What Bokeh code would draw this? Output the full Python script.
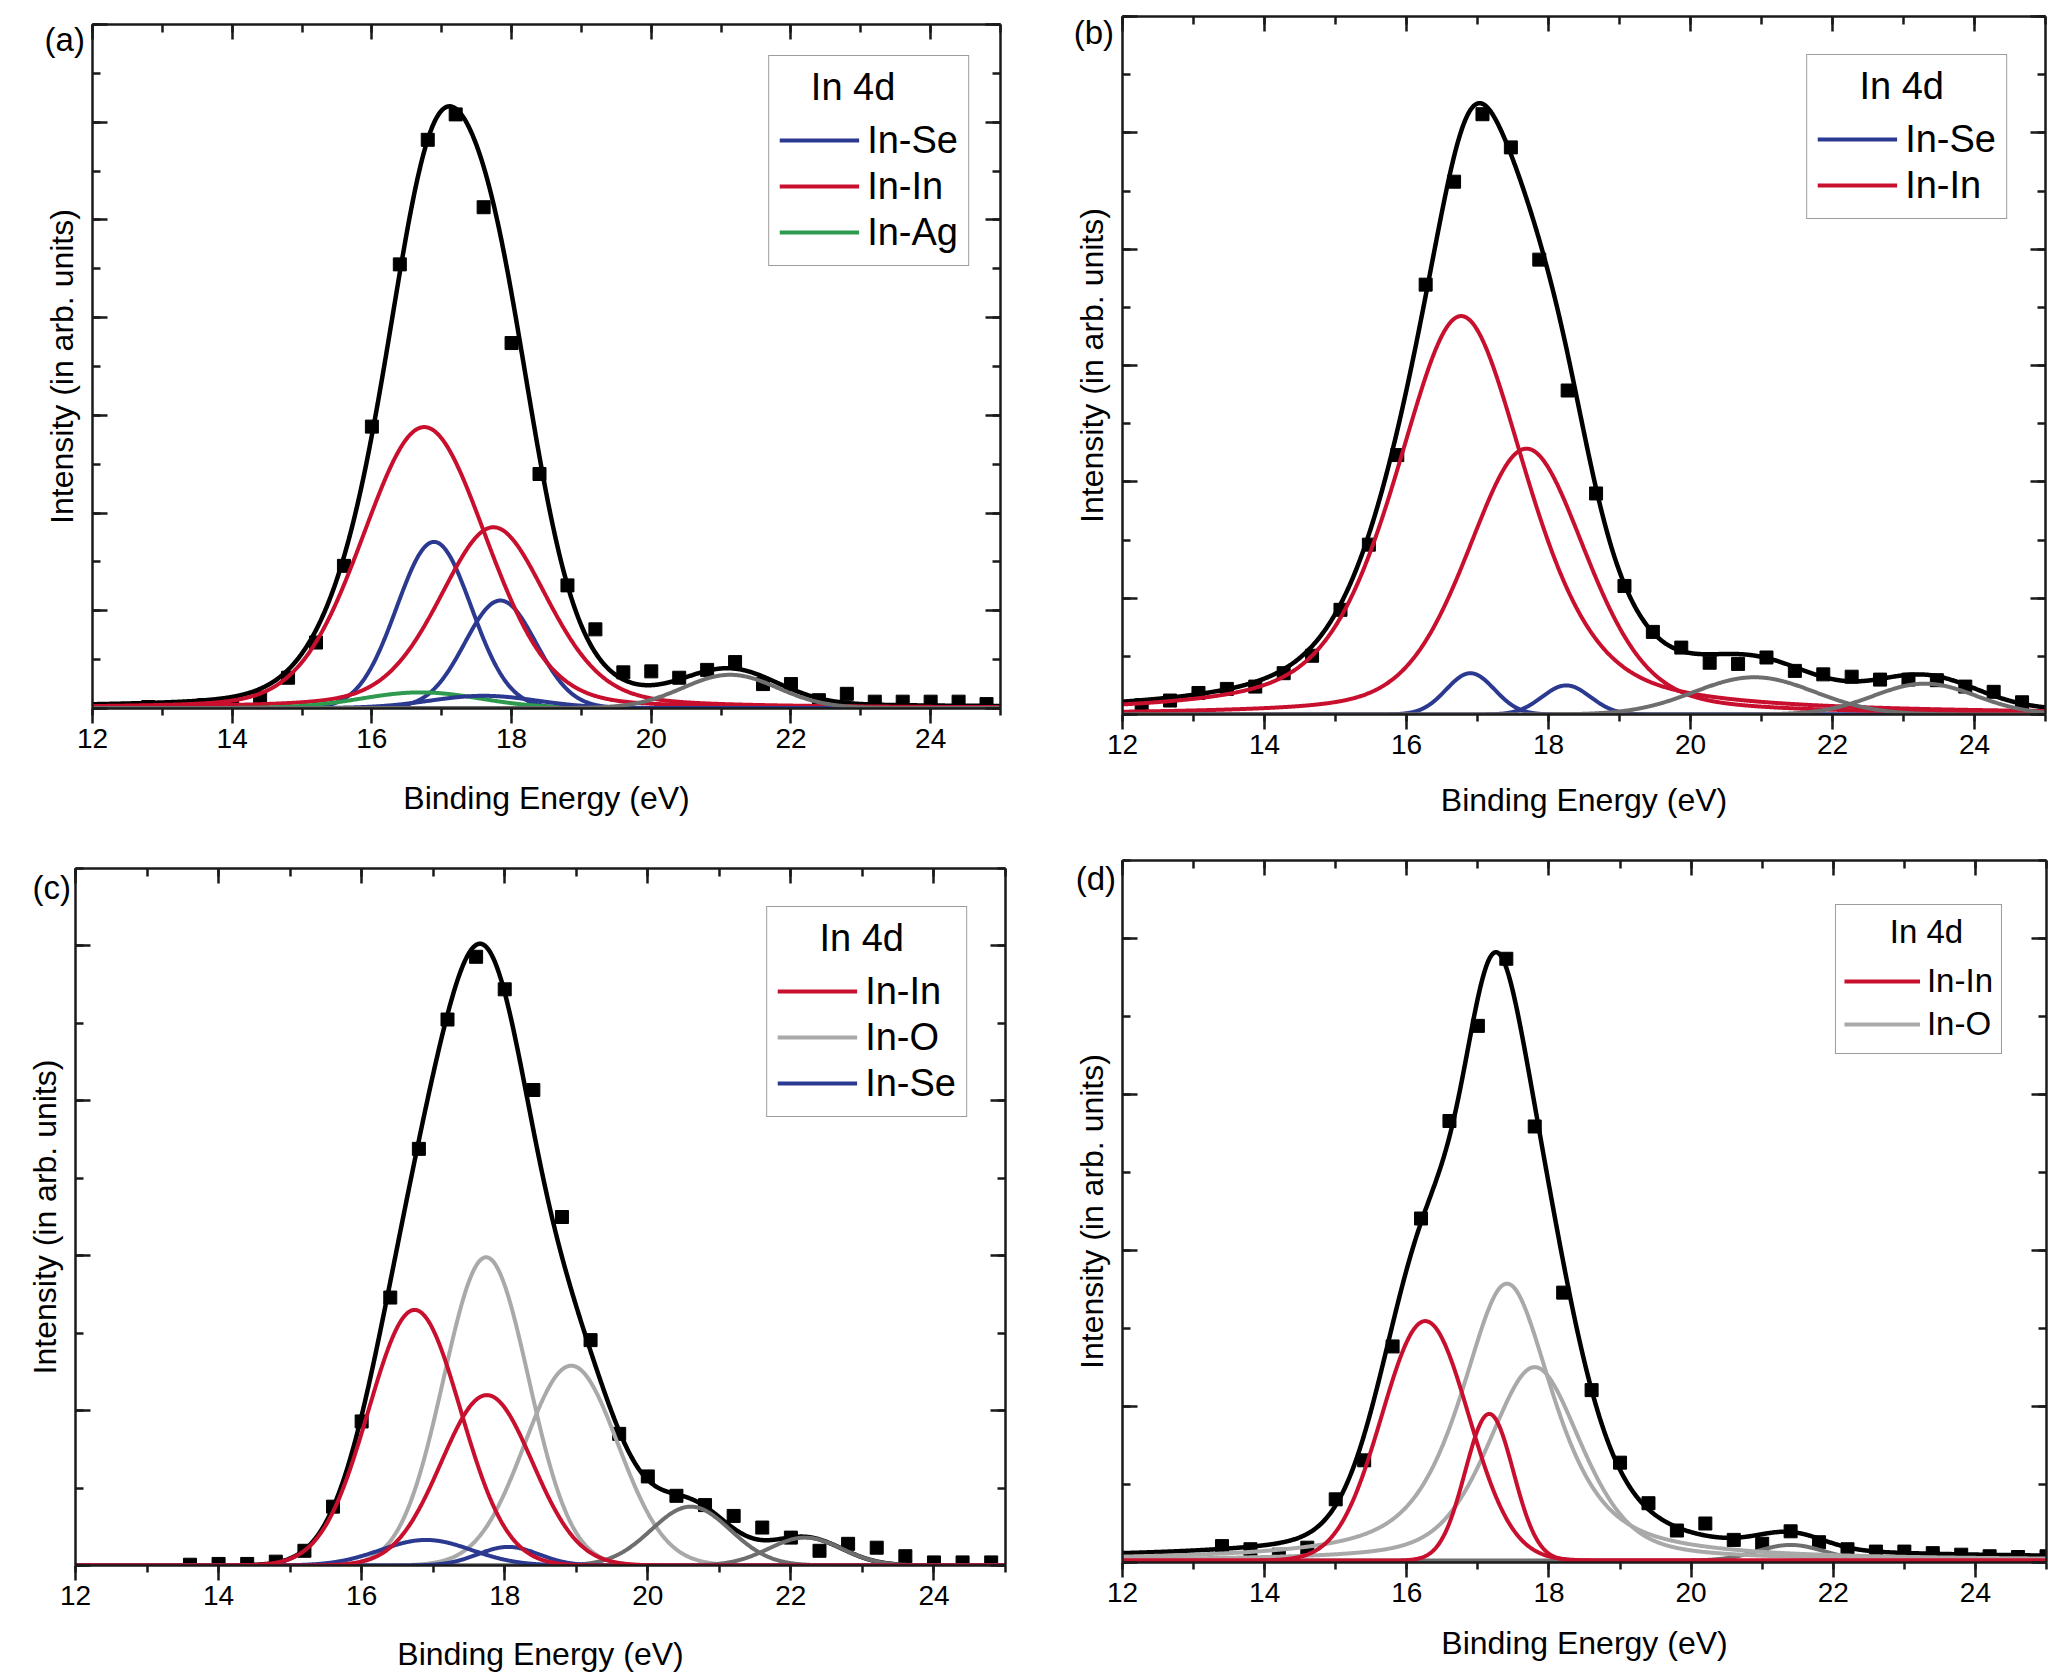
import numpy as np
from bokeh.plotting import figure
from bokeh.layouts import column, row
from bokeh.models import (Range1d, LinearAxis, SingleIntervalTicker, Legend,
                          LegendItem, Label, CustomJSTickFormatter)
from bokeh.embed import file_html
from bokeh.resources import INLINE

FONT = "Liberation Sans"

COLORS = {
    "In-Se": "#2b3990",
    "In-In": "#c8102e",
    "In-Ag": "#2e9a4f",
    "In-O": "#a9a9a9",
    "other": "#6e6e6e",
}

# ---------------- (a) ----------------
A_X = [12.8, 13.2, 13.6, 14.0, 14.4, 14.8, 15.2, 15.6, 16.0, 16.4, 16.8, 17.2,
       17.6, 18.0, 18.4, 18.8, 19.2, 19.6, 20.0, 20.4, 20.8, 21.2, 21.6, 22.0,
       22.4, 22.8, 23.2, 23.6, 24.0, 24.4, 24.8]
A_Y = [0.03, 0.03, 0.07, 0.10, 0.22, 0.63, 1.35, 2.92, 5.77, 9.09, 11.64, 12.16,
       10.26, 7.48, 4.80, 2.52, 1.62, 0.74, 0.76, 0.63, 0.79, 0.95, 0.50, 0.50,
       0.17, 0.30, 0.14, 0.14, 0.14, 0.14, 0.09]
A_GROUP = ["In-Se", "In-Se", "In-In", "In-In", "In-Ag", "In-Se", "other"]
A_CENTER = [16.89, 17.84, 16.75, 17.74, 16.70, 17.60, 21.13]
A_HEIGHT = [3.40, 2.20, 5.75, 3.70, 0.32, 0.25, 0.68]
A_HWHM = [0.63, 0.60, 1.05, 0.92, 1.00, 0.90, 0.80]
A_ETA = [0.0, 0.0, 0.15, 0.30, 0.0, 0.0, 0.0]
A_BASE = 0.02

# ---------------- (b) ----------------
B_X = [12.27, 12.67, 13.07, 13.47, 13.87, 14.27, 14.67, 15.07, 15.47, 15.87,
       16.27, 16.67, 17.07, 17.47, 17.87, 18.27, 18.67, 19.07, 19.47, 19.87,
       20.27, 20.67, 21.07, 21.47, 21.87, 22.27, 22.67, 23.07, 23.47, 23.87,
       24.27, 24.67]
B_Y = [0.16, 0.24, 0.37, 0.44, 0.48, 0.71, 1.01, 1.80, 2.92, 4.46, 7.39, 9.16,
       10.32, 9.75, 7.82, 5.57, 3.80, 2.21, 1.42, 1.15, 0.89, 0.87, 0.98, 0.75,
       0.69, 0.65, 0.60, 0.60, 0.59, 0.48, 0.39, 0.21]
B_GROUP = ["In-Se", "In-Se", "In-In", "In-In", "other", "other"]
B_CENTER = [16.90, 18.25, 16.77, 17.69, 20.90, 23.30]
B_HEIGHT = [0.71, 0.50, 6.85, 4.57, 0.64, 0.53]
B_HWHM = [0.40, 0.40, 1.10, 1.00, 1.00, 0.85]
B_ETA = [0.0, 0.0, 0.50, 0.35, 0.0, 0.0]
B_BASE = 0.0

# ---------------- (c) ----------------
C_X = [13.6, 14.0, 14.4, 14.8, 15.2, 15.6, 16.0, 16.4, 16.8, 17.2, 17.6, 18.0,
       18.4, 18.8, 19.2, 19.6, 20.0, 20.4, 20.8, 21.2, 21.6, 22.0, 22.4, 22.8,
       23.2, 23.6, 24.0, 24.4, 24.8]
C_Y = [0.01, 0.02, 0.02, 0.05, 0.19, 0.76, 1.86, 3.46, 5.38, 7.05, 7.86, 7.44,
       6.14, 4.50, 2.91, 1.70, 1.15, 0.90, 0.78, 0.64, 0.49, 0.36, 0.19, 0.28,
       0.23, 0.12, 0.04, 0.04, 0.04]
C_GROUP = ["In-O", "In-O", "other", "other", "In-Se", "In-Se", "In-In", "In-In"]
C_CENTER = [17.74, 18.93, 20.60, 22.20, 16.90, 18.05, 16.74, 17.75]
C_HEIGHT = [3.98, 2.58, 0.76, 0.36, 0.33, 0.24, 3.30, 2.20]
C_HWHM = [0.70, 0.77, 0.65, 0.60, 0.75, 0.50, 0.76, 0.75]
C_ETA = [0.0, 0.0, 0.0, 0.0, 0.0, 0.0, 0.0, 0.0]
C_BASE = 0.0

# ---------------- (d) ----------------
D_X = [13.4, 13.8, 14.2, 14.6, 15.0, 15.4, 15.8, 16.2, 16.6, 17.0, 17.4, 17.8,
       18.2, 18.6, 19.0, 19.4, 19.8, 20.2, 20.6, 21.0, 21.4, 21.8, 22.2, 22.6,
       23.0, 23.4, 23.8, 24.2, 24.6, 25.0]
D_Y = [0.21, 0.17, 0.10, 0.19, 0.81, 1.31, 2.77, 4.41, 5.66, 6.88, 7.74, 5.59,
       3.46, 2.21, 1.28, 0.76, 0.41, 0.50, 0.29, 0.24, 0.40, 0.26, 0.17, 0.14,
       0.14, 0.12, 0.10, 0.08, 0.07, 0.08]
D_GROUP = ["other", "In-O", "In-O", "In-In", "In-In"]
D_CENTER = [21.40, 17.41, 17.80, 16.26, 17.16]
D_HEIGHT = [0.20, 3.55, 2.48, 3.07, 1.88]
D_HWHM = [0.55, 0.78, 0.78, 0.72, 0.40]
D_ETA = [0.0, 0.70, 0.45, 0.0, 0.0]
D_BASE = 0.05

X_START, X_END = 12, 25
XS = np.linspace(X_START, X_END, 1301)


def pseudo_voigt(x, c, h, w, eta):
    d = (x - c) / w
    return h * (eta / (1.0 + d * d) + (1.0 - eta) * np.exp(-np.log(2.0) * d * d))


def blank_formatter():
    return CustomJSTickFormatter(code="return ''")


def style_common(ax):
    ax.ticker = SingleIntervalTicker(interval=2, num_minor_ticks=2)
    ax.axis_line_color = "#1a1a1a"
    ax.axis_line_width = 2.5
    ax.major_tick_line_color = "#1a1a1a"
    ax.minor_tick_line_color = "#1a1a1a"
    ax.major_tick_line_width = 2.5
    ax.minor_tick_line_width = 2.5


def inward(ax):
    style_common(ax)
    ax.major_tick_in = 15
    ax.major_tick_out = 0
    ax.minor_tick_in = 8
    ax.minor_tick_out = 0
    ax.formatter = blank_formatter()
    ax.major_label_text_font_size = "0px"
    ax.major_label_standoff = 0


def panel(letter, size, borders, y_max, xdata, ydata, group, center, height,
          hwhm, eta, base, legend_order, leg, letter_pos, xlabel_standoff):
    W, H = size
    L, R, T, B = borders
    p = figure(width=W, height=H, x_range=Range1d(X_START, X_END),
               y_range=Range1d(0, y_max), output_backend="svg",
               toolbar_location=None, min_border_left=L, min_border_right=R,
               min_border_top=T, min_border_bottom=B)
    p.xgrid.visible = False
    p.ygrid.visible = False
    p.outline_line_color = None
    p.background_fill_color = "white"
    p.border_fill_color = "white"

    xb = p.xaxis[0]
    style_common(xb)
    xb.major_tick_in = 0
    xb.major_tick_out = 15
    xb.minor_tick_in = 0
    xb.minor_tick_out = 7
    xb.major_label_text_font = FONT
    xb.major_label_text_font_size = "28px"
    xb.major_label_text_color = "black"
    xb.major_label_standoff = 5
    xb.axis_label = "Binding Energy (eV)"
    xb.axis_label_text_font = FONT
    xb.axis_label_text_font_size = "32px"
    xb.axis_label_text_font_style = "normal"
    xb.axis_label_text_color = "black"
    xb.axis_label_standoff = xlabel_standoff

    yl = p.yaxis[0]
    inward(yl)
    yl.axis_label = "Intensity (in arb. units)"
    yl.axis_label_text_font = FONT
    yl.axis_label_text_font_size = "32px"
    yl.axis_label_text_font_style = "normal"
    yl.axis_label_text_color = "black"
    yl.axis_label_standoff = 13

    top = LinearAxis()
    inward(top)
    p.add_layout(top, "above")
    right = LinearAxis()
    inward(right)
    p.add_layout(right, "right")

    # measured points
    p.scatter(xdata, ydata, marker="square", size=13, color="black")

    comps = [pseudo_voigt(XS, c, h, w, e) for c, h, w, e in zip(center, height, hwhm, eta)]
    envelope = np.sum(comps, axis=0) + base
    p.line(XS, envelope, line_width=4.5, color="black", line_join="round")

    first = {}
    for g, comp in zip(group, comps):
        r = p.line(XS, comp + base * 0.5, line_width=4, color=COLORS[g],
                   line_join="round")
        first.setdefault(g, r)

    fs, pad, lh, gw, std, margin, indent = leg
    items = [LegendItem(label=g, renderers=[first[g]]) for g in legend_order]
    legend = Legend(items=items, location="top_right",
                    title="\u00a0" * indent + "In 4d",
                    title_text_font=FONT, title_text_font_size=fs,
                    title_text_font_style="normal", title_text_color="black",
                    title_standoff=8,
                    label_text_font=FONT, label_text_font_size=fs,
                    label_text_color="black",
                    label_height=lh, label_standoff=std,
                    glyph_width=gw, glyph_height=20, spacing=0, padding=pad,
                    margin=margin, border_line_color="#3a3a3a",
                    border_line_width=1.5, background_fill_color="white",
                    background_fill_alpha=1.0)
    p.add_layout(legend)

    # panel letter: lives in a side panel so it may sit outside the frame
    lx, ly, side = letter_pos
    lab = Label(x=lx, y=ly, text=letter, text_font=FONT, text_font_size="33px",
                text_align="left", text_baseline="middle", text_color="black")
    p.add_layout(lab, side)
    return p


pa = panel("(a)", (1030, 830), (91, 30, 24, 122), 14, A_X, A_Y, A_GROUP,
           A_CENTER, A_HEIGHT, A_HWHM, A_ETA, A_BASE,
           ["In-Se", "In-In", "In-Ag"], ("38px", 10, 46, 80, 8, 31, 3),
           (12 - 48 / 69.92, 14 - 15 / 48.86, "left"), 29)
pb = panel("(b)", (1029, 830), (89, 14, 16, 116), 12, B_X, B_Y, B_GROUP,
           B_CENTER, B_HEIGHT, B_HWHM, B_ETA, B_BASE,
           ["In-Se", "In-In"], ("38px", 10, 46, 80, 8, 38, 4),
           (12 - 49 / 71.25, 12 - 16 / 58.17, "left"), 25)
pc = panel("(c)", (1030, 844), (75, 25, 38, 105), 9, C_X, C_Y, C_GROUP,
           C_CENTER, C_HEIGHT, C_HWHM, C_ETA, C_BASE,
           ["In-In", "In-O", "In-Se"], ("38px", 10, 46, 80, 8, 38, 4),
           (12 - 43 / 71.5, 9 - 19 / 77.9, "above"), 28)
pd = panel("(d)", (1029, 844), (87, 13, 30, 112), 9, D_X, D_Y, D_GROUP,
           D_CENTER, D_HEIGHT, D_HWHM, D_ETA, D_BASE,
           ["In-In", "In-O"], ("33px", 8, 43, 76, 7, 44, 5),
           (12 - 47 / 71.5, 9 - 18 / 78.0, "left"), 20)

# each figure sits in its own column so the panels keep independent borders
layout = column(row(column(pa), column(pb), spacing=0),
                row(column(pc), column(pd), spacing=0), spacing=0)

with open("out.html", "w") as f:
    f.write(file_html(layout, INLINE))
